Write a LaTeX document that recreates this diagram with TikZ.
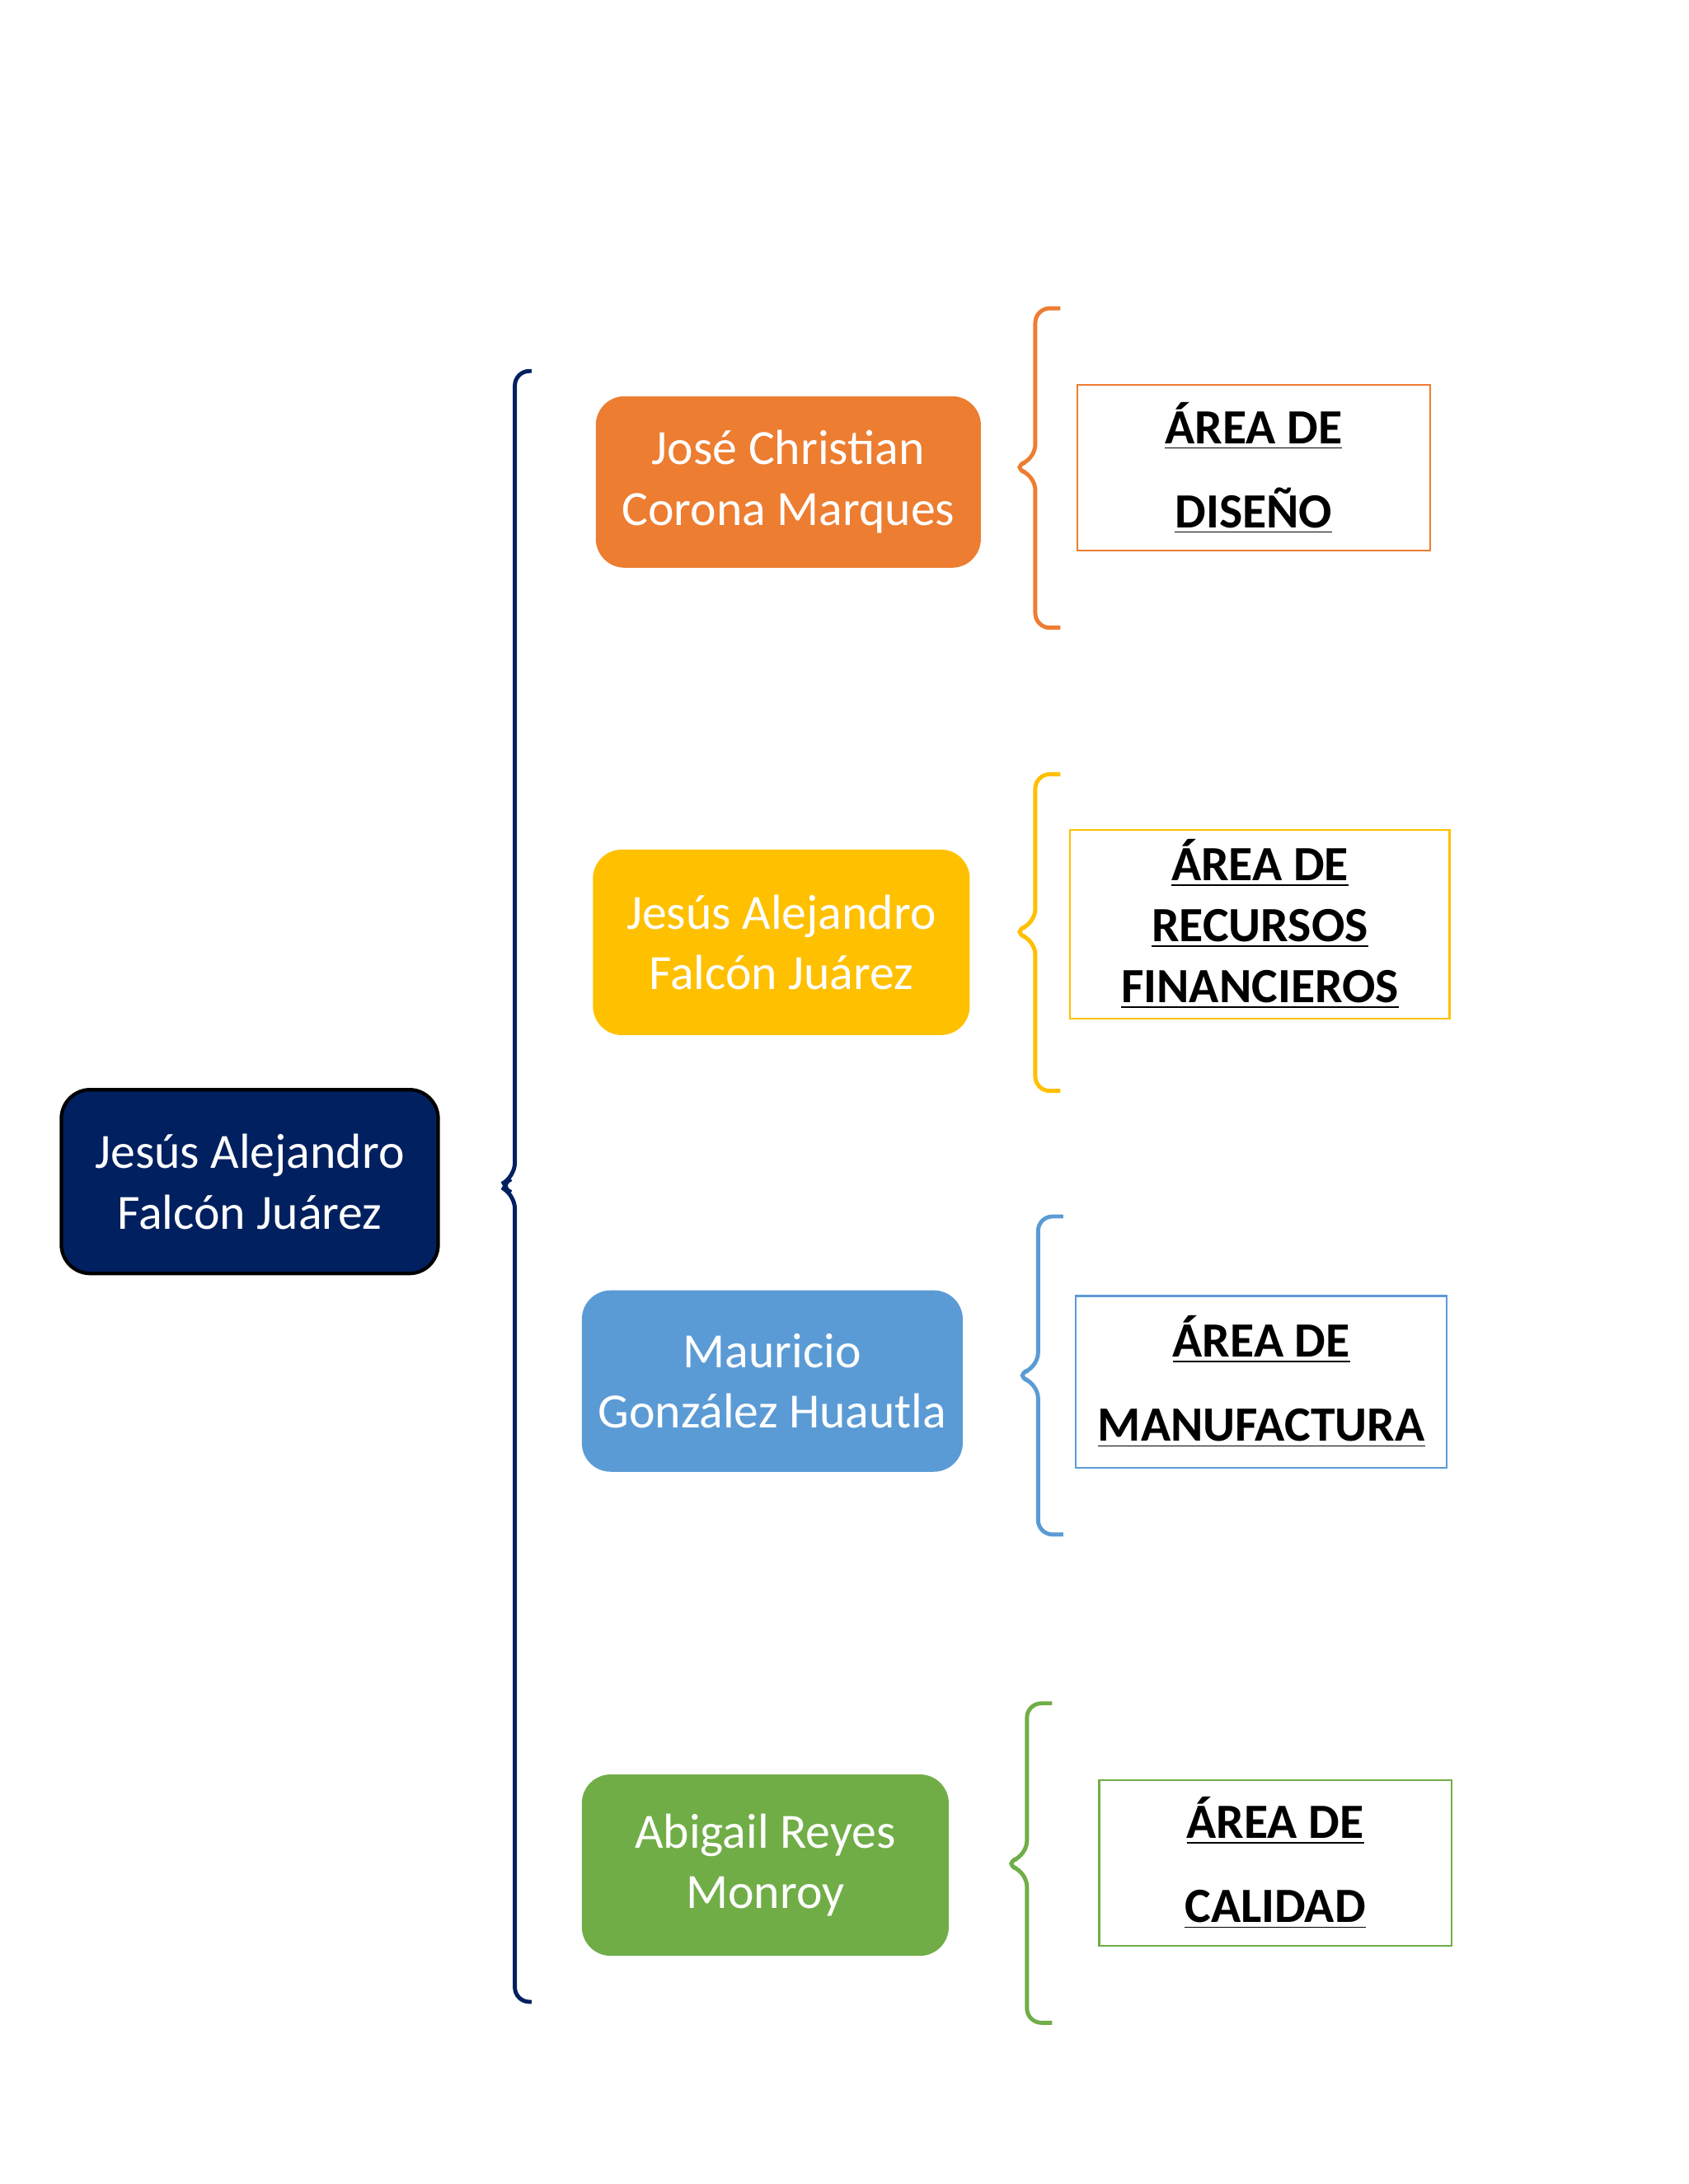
\documentclass[tikz,border=0pt]{standalone}
\usepackage{fontspec}
\setmainfont{Carlito}
\usetikzlibrary{positioning}
\definecolor{navy}{HTML}{002060}
\definecolor{naranja}{HTML}{ED7D31}
\definecolor{amarillo}{HTML}{FFC000}
\definecolor{azul}{HTML}{5B9BD5}
\definecolor{verde}{HTML}{70AD47}
\tikzset{
  persona/.style={rounded corners=0.35cm, text=white, align=center,
    font=\fontsize{17}{21}\selectfont},
  area/.style={draw, fill=white, align=center, line width=0.6pt,
    font=\fontsize{17}{21}\selectfont\bfseries},
  llave/.style={line width=1.4pt, rounded corners=5pt}
}
% llave: color, x extremo, x barra, x punta, y arriba, y punta, y abajo
\newcommand{\llave}[7]{%
  \draw[llave, #1] (#2,#5) -- (#3,#5) -- (#3,#6-6) -- (#4,#6) -- (#3,#6+6) -- (#3,#7) -- (#2,#7);}
\newcommand{\ul}[1]{\underline{#1}}
\begin{document}
\begin{tikzpicture}[x=0.016926cm, y=-0.016926cm]
\useasboundingbox (0,0) rectangle (1210,1565.6);
% raiz
\node[persona, fill=navy, draw=black, line width=1.2pt, minimum width=4.57cm, minimum height=2.23cm] (raiz) at (179,847) {Jesús Alejandro\\Falcón Juárez};
\llave{navy}{381}{369}{357}{266}{850}{1435}
% personas
\node[persona, fill=naranja, minimum width=4.67cm, minimum height=2.08cm] (jose) at (565,345.5) {José Christian\\Corona Marques};
\node[persona, fill=amarillo, minimum width=4.57cm, minimum height=2.25cm] (jesus) at (560,675.5) {Jesús Alejandro\\Falcón Juárez};
\node[persona, fill=azul, minimum width=4.62cm, minimum height=2.20cm] (mauricio) at (553.5,990) {Mauricio\\González Huautla};
\node[persona, fill=verde, minimum width=4.45cm, minimum height=2.20cm] (abigail) at (548.5,1337) {Abigail Reyes\\Monroy};
% llaves
\llave{naranja}{760}{742}{725}{221}{335}{450}
\llave{amarillo}{760}{742}{725}{555}{668}{782}
\llave{azul}{762}{744}{727}{872}{986}{1100}
\llave{verde}{754}{736}{719}{1221}{1336}{1450}
% areas
\node[area, draw=naranja, minimum width=4.28cm, minimum height=2.01cm, font=\fontsize{17}{29}\selectfont\bfseries] (diseno) at (898.5,335.5) {\ul{ÁREA DE}\\\ul{DISEÑO}};
\node[area, draw=amarillo, minimum width=4.60cm, minimum height=2.25cm] (finan) at (903,662.5) {\ul{ÁREA DE}\\\ul{RECURSOS}\\\ul{FINANCIEROS}};
\node[area, draw=azul, minimum width=4.50cm, minimum height=2.08cm, font=\fontsize{17}{29}\selectfont\bfseries] (manuf) at (904,990.5) {\ul{ÁREA DE}\\\ul{MANUFACTURA}};
\node[area, draw=verde, minimum width=4.27cm, minimum height=2.01cm, font=\fontsize{17}{29}\selectfont\bfseries] (calidad) at (914,1335.5) {\ul{ÁREA DE}\\\ul{CALIDAD}};
\end{tikzpicture}
\end{document}
